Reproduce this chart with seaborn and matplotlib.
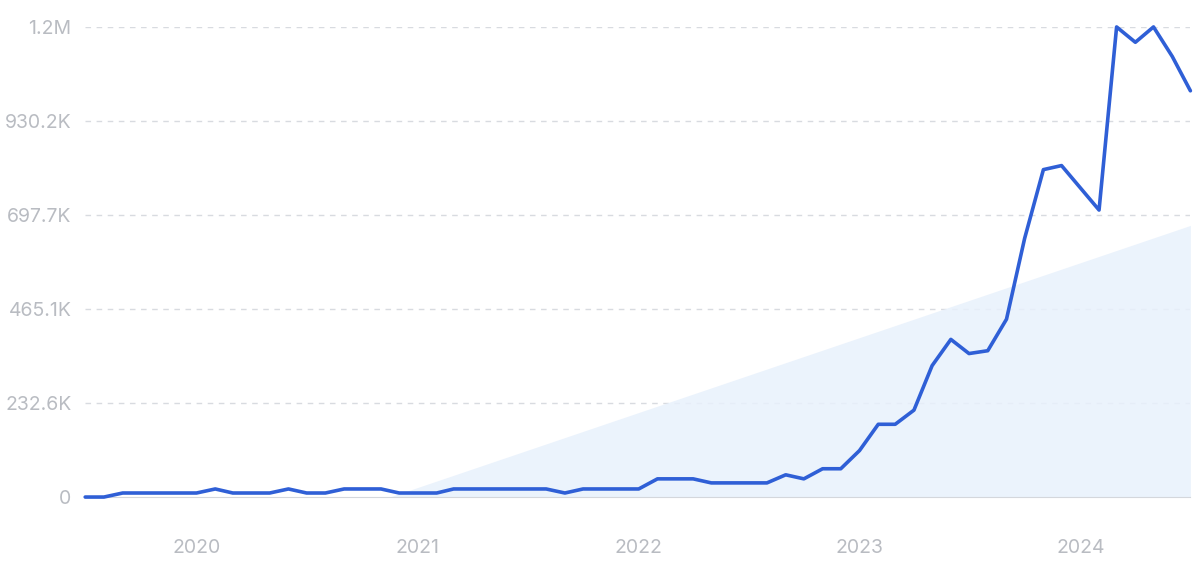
import matplotlib
matplotlib.use("Agg")
import matplotlib.pyplot as plt
import numpy as np
import pandas as pd
import seaborn as sns

# monthly search volume, Jul 2019 .. Jul 2024
months = pd.date_range("2019-07-01", periods=61, freq="MS")
volume = [
    0, 0, 10e3, 10e3, 10e3, 10e3, 10e3, 20e3, 10e3, 10e3,
    10e3, 20e3, 10e3, 10e3, 20e3, 20e3, 20e3, 10e3, 10e3, 10e3,
    20e3, 20e3, 20e3, 20e3, 20e3, 20e3, 10e3, 20e3, 20e3, 20e3,
    20e3, 45e3, 45e3, 45e3, 35e3, 35e3, 35e3, 35e3, 55e3, 45e3,
    70e3, 70e3, 115e3, 180e3, 180e3, 215e3, 325e3, 390e3, 355e3, 362e3,
    440e3, 640e3, 810e3, 820e3, 765e3, 710e3, 1163e3, 1125e3, 1163e3, 1090e3,
    1005e3,
]
trend_dates = pd.to_datetime(["2020-11-15", "2024-07-01"])
trend_vals = [0, 672e3]

yticks = [0, 232.6e3, 465.1e3, 697.7e3, 930.2e3, 1163e3]
ytick_labels = ["0", "232.6K", "465.1K", "697.7K", "930.2K", "1.2M"]
xticks = pd.to_datetime(["2020-01-01", "2021-01-01", "2022-01-01", "2023-01-01", "2024-01-01"])
xtick_labels = ["2020", "2021", "2022", "2023", "2024"]

sns.set_style("white")
plt.rcParams["font.family"] = ["Inter", "DejaVu Sans"]

fig = plt.figure(figsize=(12, 5.61), dpi=100)
ax = fig.add_axes([0.071, 0.114, 0.921, 0.838])

df = pd.DataFrame({"month": months, "volume": volume})

# trend wedge, light blue
ax.fill_between(trend_dates, 0, trend_vals, color="#e8f1fc", alpha=0.85, linewidth=0, zorder=1)

sns.lineplot(data=df, x="month", y="volume", ax=ax, color="#2f5fd6",
             linewidth=2.6, zorder=3, clip_on=False)

ax.set_xlim(months[0], months[-1])
ax.set_ylim(0, 1163e3)
ax.set_yticks(yticks)
ax.set_yticklabels(ytick_labels)
ax.set_xticks(xticks)
ax.set_xticklabels(xtick_labels)
ax.set_xlabel(""); ax.set_ylabel("")

for y in yticks[1:]:
    ax.axhline(y, color="#d8dbe0", linestyle=(0, (4, 4)), linewidth=1, zorder=0)

ax.tick_params(axis="y", length=0, pad=10, labelsize=14, labelcolor="#b9bcc2")
ax.tick_params(axis="x", length=0, pad=30, labelsize=14, labelcolor="#b9bcc2")
for s in ["top", "right", "left"]:
    ax.spines[s].set_visible(False)
ax.spines["bottom"].set_color("#d4d7dc")

fig.savefig("out.png", dpi=100)
